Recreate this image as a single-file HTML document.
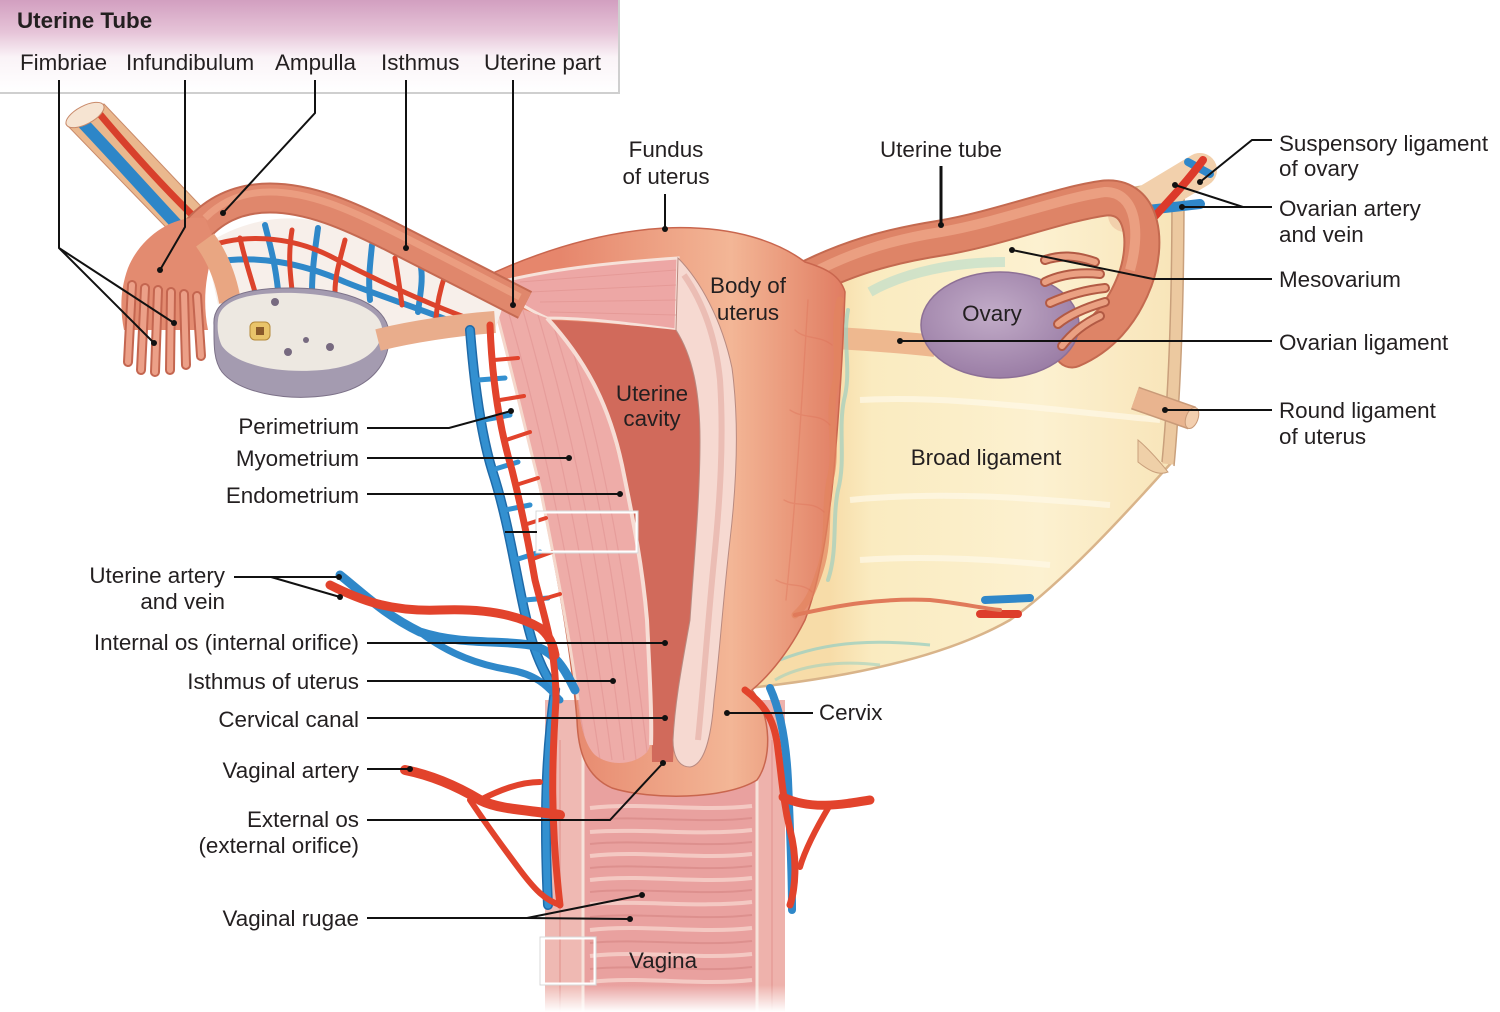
<!DOCTYPE html>
<html><head><meta charset="utf-8">
<style>
html,body{margin:0;padding:0;background:#fff;}
svg{display:block;}
text{font-family:"Liberation Sans",Arial,sans-serif;font-size:22.4px;fill:#231f20;}
</style></head><body>
<svg width="1500" height="1012" viewBox="0 0 1500 1012" xmlns="http://www.w3.org/2000/svg">
<defs>
<linearGradient id="hdr" x1="0" y1="0" x2="0" y2="1">
<stop offset="0" stop-color="#d29fc0"/><stop offset="0.35" stop-color="#e6c4d8"/><stop offset="0.62" stop-color="#faf3f7"/><stop offset="1" stop-color="#ffffff"/>
</linearGradient>
<linearGradient id="body" gradientUnits="userSpaceOnUse" x1="560" y1="0" x2="845" y2="0">
<stop offset="0" stop-color="#e6866c"/><stop offset="0.6" stop-color="#f3b696"/><stop offset="0.8" stop-color="#ea9a7c"/><stop offset="1" stop-color="#e07c62"/>
</linearGradient>
<linearGradient id="broad" gradientUnits="userSpaceOnUse" x1="830" y1="0" x2="1180" y2="0">
<stop offset="0" stop-color="#f7dca8"/><stop offset="0.12" stop-color="#faebc0"/><stop offset="0.6" stop-color="#fcf1d0"/><stop offset="1" stop-color="#f8e4b8"/>
</linearGradient>
<linearGradient id="fade" x1="0" y1="0" x2="0" y2="1">
<stop offset="0" stop-color="#fff" stop-opacity="0"/><stop offset="1" stop-color="#fff" stop-opacity="1"/>
</linearGradient>
<radialGradient id="ovR" cx="0.45" cy="0.4" r="0.6">
<stop offset="0" stop-color="#c2acc8"/><stop offset="1" stop-color="#9b7ea6"/>
</radialGradient>
<clipPath id="wallclip">
<path d="M 493 300 C 500 330 505 350 510 362 C 518 400 522 420 527 437 C 533 460 537 475 540 487 C 546 515 550 535 553 553 C 558 580 563 600 567 620 C 572 650 575 675 578 700 C 580 725 585 745 595 755 C 610 767 635 765 647 752 C 655 740 652 720 651 700 C 650 670 649 645 647 620 C 643 590 642 570 640 553 C 634 525 630 505 627 493 C 622 470 620 462 617 453 C 610 425 605 408 600 393 C 590 370 580 358 577 353 C 565 338 555 325 547 318 C 530 312 512 304 493 300 Z"/>
</clipPath>
</defs>

<!-- Broad ligament -->
<path d="M 790 278 C 850 256 920 236 980 222 C 1050 205 1120 186 1184 182 L 1182 260 C 1179 340 1176 400 1172 462 C 1120 520 1060 585 1010 620 C 940 660 830 682 705 692 L 705 420 Z" fill="url(#broad)" stroke="#d9b48a" stroke-width="2.5"/>
<g stroke="#fff9e8" stroke-width="6" opacity="0.7" fill="none">
<path d="M 860 400 C 950 395 1050 410 1160 420"/>
<path d="M 850 500 C 950 490 1050 500 1110 505"/>
<path d="M 860 560 C 930 555 1000 560 1050 565"/>
</g>
<path d="M 870 292 C 905 272 955 262 1005 262" stroke="#b5dccb" stroke-width="10" fill="none" opacity="0.6"/>
<path d="M 780 660 C 830 640 880 640 930 645" stroke="#9fd0c0" stroke-width="3" fill="none" opacity="0.8"/>
<path d="M 775 680 C 800 665 840 660 880 665" stroke="#9fd0c0" stroke-width="3" fill="none" opacity="0.6"/>
<path d="M 985 600 L 1030 598" stroke="#2f87c9" stroke-width="8" stroke-linecap="round"/>
<path d="M 980 614 L 1018 614" stroke="#dd3d2b" stroke-width="8" stroke-linecap="round"/>
<!-- right edge band -->
<path d="M 1178 190 C 1178 280 1176 380 1168 464" stroke="#ecc9a0" stroke-width="12" fill="none"/>
<path d="M 1172 190 C 1172 280 1170 380 1162 462" stroke="#c9a07c" stroke-width="1.5" fill="none"/>
<path d="M 1184 190 C 1184 280 1182 380 1174 466" stroke="#c9a07c" stroke-width="1.5" fill="none"/>
<!-- round ligament -->
<path d="M 1135 398 L 1192 418" stroke="#c99a78" stroke-width="24"/>
<path d="M 1135 398 L 1192 418" stroke="#e9b48f" stroke-width="21"/>
<ellipse cx="1192" cy="418" rx="6" ry="11" fill="#f3cfaf" stroke="#c99a78" transform="rotate(20 1192 418)"/>
<path d="M 1138 440 C 1150 450 1160 462 1168 472 C 1158 476 1148 470 1138 462 Z" fill="#efd0a8" stroke="#c9a07c"/>
<!-- right suspensory -->
<path d="M 1125 215 L 1200 170" stroke="#f2d0ac" stroke-width="34" stroke-linecap="round"/>
<path d="M 1130 212 L 1200 204" stroke="#2f87c9" stroke-width="10" stroke-linecap="round"/>
<path d="M 1188 162 L 1210 174" stroke="#2f87c9" stroke-width="8" stroke-linecap="round"/>
<path d="M 1203 160 C 1185 185 1160 210 1135 238" stroke="#dc3a2a" stroke-width="8" fill="none" stroke-linecap="round"/>
<!-- right tube -->
<path d="M 795 285 C 845 258 890 246 941 238 C 1000 228 1060 204 1105 198 C 1145 195 1148 245 1135 280 C 1122 315 1100 338 1072 350" stroke="#c46a50" stroke-width="37" fill="none" stroke-linecap="round"/>
<path d="M 795 285 C 845 258 890 246 941 238 C 1000 228 1060 204 1105 198 C 1145 195 1148 245 1135 280 C 1122 315 1100 338 1072 350" stroke="#de8467" stroke-width="33" fill="none" stroke-linecap="round"/>
<path d="M 800 280 C 845 254 890 240 941 232 C 1000 222 1060 198 1105 192 C 1138 192 1140 235 1130 270" stroke="#eda688" stroke-width="10" fill="none" opacity="0.8"/>
<!-- right ovarian ligament -->
<path d="M 835 338 C 870 340 900 342 935 346" stroke="#eeb88f" stroke-width="22" fill="none"/>
<!-- right ovary -->
<ellipse cx="1000" cy="325" rx="79" ry="53" fill="url(#ovR)" stroke="#8d7096" stroke-width="1.5"/>
<g fill="none" stroke-linecap="round">
<g stroke="#b25a44" stroke-width="10">
<path d="M 1095 262 C 1075 255 1060 255 1045 260"/>
<path d="M 1100 274 C 1080 272 1062 274 1045 282"/>
<path d="M 1105 288 C 1085 290 1068 295 1050 303"/>
<path d="M 1105 302 C 1088 307 1070 314 1058 324"/>
<path d="M 1100 316 C 1085 323 1072 333 1062 346"/>
</g>
<g stroke="#eaa082" stroke-width="6">
<path d="M 1095 262 C 1075 255 1060 255 1045 260"/>
<path d="M 1100 274 C 1080 272 1062 274 1045 282"/>
<path d="M 1105 288 C 1085 290 1068 295 1050 303"/>
<path d="M 1105 302 C 1088 307 1070 314 1058 324"/>
<path d="M 1100 316 C 1085 323 1072 333 1062 346"/>
</g>
</g>

<!-- Vagina -->
<rect x="545" y="700" width="240" height="312" fill="#e9a19f"/>
<rect x="545" y="700" width="38" height="312" fill="#efb9b3"/>
<rect x="757" y="700" width="28" height="312" fill="#eeb2ac"/>
<path d="M 583 740 L 583 1012 M 757 740 L 757 1012" stroke="#f6e2da" stroke-width="3"/>
<path d="M 560 740 L 560 1012 M 772 740 L 772 1012" stroke="#e59d98" stroke-width="1.5"/>
<g fill="none" stroke="#f6d0ca" stroke-width="4" opacity="0.85">
<path d="M 590 808 C 640 802 700 812 752 806"/>
<path d="M 590 832 C 640 828 700 836 752 830"/>
<path d="M 590 856 C 640 850 700 860 752 854"/>
<path d="M 590 880 C 640 874 700 884 752 878"/>
<path d="M 590 904 C 640 900 700 908 752 902"/>
<path d="M 590 930 C 640 924 700 934 752 928"/>
<path d="M 590 956 C 640 950 700 960 752 954"/>
<path d="M 590 982 C 640 976 700 986 752 980"/>
</g>
<g fill="none" stroke="#d98a88" stroke-width="2" opacity="0.7">
<path d="M 590 820 C 640 815 700 824 752 818"/>
<path d="M 590 844 C 640 839 700 848 752 842"/>
<path d="M 590 868 C 640 863 700 872 752 866"/>
<path d="M 590 892 C 640 887 700 896 752 890"/>
<path d="M 590 917 C 640 912 700 921 752 915"/>
<path d="M 590 943 C 640 938 700 947 752 941"/>
<path d="M 590 969 C 640 964 700 973 752 967"/>
</g>

<!-- Uterus body + cervix -->
<path d="M 478 280 C 530 255 595 232 665 228 C 735 225 780 243 805 262 C 825 268 840 275 845 292 C 843 350 840 400 834 470 C 828 530 820 580 805 620 C 790 650 770 675 752 690 C 772 715 772 760 757 780 C 725 800 650 800 612 788 C 585 776 578 750 577 720 C 572 660 560 590 548 530 C 535 460 515 380 493 300 Z" fill="url(#body)" stroke="#c9664e" stroke-width="1.5"/>
<!-- vascular edge of body -->
<g fill="none" stroke-linecap="round">
<path d="M 840 300 C 832 330 842 360 834 390 C 828 420 838 450 830 480 C 824 510 830 540 820 570 C 812 595 806 605 795 615" stroke="#e2845f" stroke-width="7" opacity="0.7"/>
<path d="M 848 310 C 842 340 852 370 844 400 C 838 430 846 460 838 490 C 832 520 838 550 828 580" stroke="#9fcfc0" stroke-width="4" opacity="0.7"/>
<g stroke="#dc6e55" stroke-width="1.4" opacity="0.35">
<path d="M 795 330 C 805 340 820 335 832 345"/><path d="M 790 410 C 805 420 818 412 830 425"/><path d="M 784 500 C 798 508 812 500 824 512"/><path d="M 776 580 C 790 588 802 582 812 592"/>
<path d="M 808 300 C 802 400 796 500 786 600"/>
</g>
<path d="M 795 615 C 840 605 880 598 930 600 C 960 603 980 608 1000 610" stroke="#e07a5a" stroke-width="4"/>
</g>

<!-- top cut band -->
<path d="M 500 282 C 555 268 620 262 678 258 L 676 330 C 640 325 590 318 547 318 C 528 310 512 298 500 290 Z" fill="#eda7a5" stroke="#f7e2da" stroke-width="3"/>
<g stroke="#e29592" stroke-width="1" opacity="0.7">
<path d="M 520 282 L 676 270 M 530 292 L 676 285 M 540 302 L 676 300 M 550 312 L 676 315"/>
</g>
<!-- left pink wall -->
<path d="M 493 300 C 500 330 505 350 510 362 C 518 400 522 420 527 437 C 533 460 537 475 540 487 C 546 515 550 535 553 553 C 558 580 563 600 567 620 C 572 650 575 675 578 700 C 580 725 585 745 595 755 C 610 767 635 765 647 752 C 655 740 652 720 651 700 C 650 670 649 645 647 620 C 643 590 642 570 640 553 C 634 525 630 505 627 493 C 622 470 620 462 617 453 C 610 425 605 408 600 393 C 590 370 580 358 577 353 C 565 338 555 325 547 318 C 530 312 512 304 493 300 Z" fill="#eeaca8"/>
<g clip-path="url(#wallclip)" stroke="#e39896" stroke-width="1.2" opacity="0.7" fill="none">
<path d="M 505 300 C 540 420 570 560 600 760"/>
<path d="M 520 300 C 555 420 585 560 612 760"/>
<path d="M 535 305 C 570 420 600 560 624 760"/>
<path d="M 550 315 C 585 420 615 560 636 760"/>
<path d="M 565 325 C 598 430 625 560 648 760"/>
<path d="M 495 320 C 525 430 555 560 588 760"/>
</g>
<path d="M 493 300 C 510 362 527 437 540 487 C 553 553 567 620 578 700" stroke="#f5d8cc" stroke-width="3" fill="none"/>
<!-- cavity -->
<path d="M 547 320 C 600 322 640 326 676 330 C 692 355 700 390 700 440 C 700 500 694 560 690 620 C 683 660 676 700 673 762 L 652 762 C 652 720 650 680 647 620 C 642 560 630 505 622 465 C 610 410 590 365 547 320 Z" fill="#d16a5b"/>
<path d="M 547 318 C 590 365 610 410 622 465 C 630 505 642 560 647 620 C 650 680 652 720 651 745" stroke="#f7ddd5" stroke-width="4" fill="none"/>
<!-- right pale strip -->
<path d="M 678 258 C 700 280 722 320 732 368 C 739 420 737 480 730 540 C 723 600 720 650 714 700 C 711 740 704 765 690 767 C 678 767 673 755 673 740 C 675 700 683 660 690 620 C 694 560 700 500 700 440 C 700 390 692 355 676 330 Z" fill="#f6d9d1" stroke="#b98a80" stroke-width="1"/>
<path d="M 684 275 C 705 305 716 340 720 380 C 724 440 720 500 714 560 C 708 620 704 680 698 740" stroke="#ebbdb4" stroke-width="6" fill="none"/>

<!-- Left suspensory -->
<path d="M 66 124 L 104 104 L 214 220 L 188 250 Z" fill="#eab88e" stroke="#c98a6a"/>
<path d="M 82 122 C 118 160 158 205 195 244" stroke="#2d86c8" stroke-width="12" fill="none"/>
<path d="M 98 112 C 130 150 170 195 208 230" stroke="#d8402c" stroke-width="7" fill="none"/>
<ellipse cx="85" cy="115" rx="21" ry="9" transform="rotate(-28 85 115)" fill="#f6e4d2" stroke="#c98a6a"/>
<!-- mesosalpinx -->
<path d="M 205 245 C 250 215 300 212 340 228 C 400 250 460 285 505 300 L 495 330 C 450 328 410 332 378 338 C 360 305 320 292 270 292 C 240 292 225 298 218 305 Z" fill="#f7efea"/>
<g fill="none" stroke-linecap="round">
<g stroke="#2f88c9" stroke-width="6">
<path d="M 215 262 C 255 255 300 262 345 282 C 390 300 440 315 470 330"/>
<path d="M 265 225 C 270 245 275 262 278 290"/>
<path d="M 318 228 C 315 250 312 270 312 292"/>
<path d="M 372 245 C 370 265 368 280 370 300"/>
<path d="M 420 262 C 424 278 420 295 418 312"/>
</g>
<g stroke="#dc432c" stroke-width="5">
<path d="M 200 250 C 240 232 290 236 330 256 C 380 282 430 305 478 322"/>
<path d="M 240 238 C 245 260 250 275 255 292"/>
<path d="M 292 230 C 288 255 290 272 292 290"/>
<path d="M 345 240 C 340 260 335 275 335 292"/>
<path d="M 395 258 C 398 275 400 290 402 305"/>
<path d="M 445 275 C 440 290 437 305 436 318"/>
</g>
</g>
<!-- left tube -->
<path d="M 525 305 C 480 282 430 256 390 236 C 350 216 310 198 270 198 C 235 198 212 212 195 232" stroke="#c56a52" stroke-width="31" fill="none"/>
<path d="M 525 305 C 480 282 430 256 390 236 C 350 216 310 198 270 198 C 235 198 212 212 195 232" stroke="#e0876c" stroke-width="27" fill="none"/>
<path d="M 520 297 C 478 275 430 250 390 230 C 350 210 310 192 270 192 C 240 192 220 203 205 218" stroke="#eda286" stroke-width="7" fill="none" opacity="0.8"/>
<!-- infundibulum -->
<path d="M 205 218 C 172 214 140 238 128 268 C 120 290 120 310 124 330 L 208 330 C 202 300 206 270 216 245 Z" fill="#e38b70"/>
<path d="M 205 240 C 218 258 226 278 230 302" stroke="#e9a682" stroke-width="22" fill="none"/>
<g fill="none" stroke-linecap="round">
<g stroke="#c46650" stroke-width="10">
<path d="M 132 285 L 128 362"/><path d="M 145 288 L 141 370"/><path d="M 158 290 L 155 372"/><path d="M 171 292 L 170 370"/><path d="M 184 294 L 186 365"/><path d="M 197 296 L 201 356"/>
</g>
<g stroke="#eca088" stroke-width="6">
<path d="M 132 285 L 128 362"/><path d="M 145 288 L 141 370"/><path d="M 158 290 L 155 372"/><path d="M 171 292 L 170 370"/><path d="M 184 294 L 186 365"/><path d="M 197 296 L 201 356"/>
</g>
</g>
<!-- left ovary -->
<path d="M 214 325 C 212 300 240 287 295 288 C 350 289 386 305 389 332 C 391 362 372 388 330 395 C 285 402 238 392 222 372 C 213 360 214 342 214 325 Z" fill="#a49bb0" stroke="#7c7188"/>
<path d="M 218 320 C 220 300 248 292 295 293 C 345 295 380 308 382 328 C 383 350 362 366 322 370 C 275 374 235 364 222 346 C 218 338 217 328 218 320 Z" fill="#ede8e1"/>
<rect x="250" y="322" width="20" height="18" rx="5" fill="#e9c46a" stroke="#b58a3a"/>
<rect x="256" y="327" width="8" height="8" fill="#8a5a2a"/>
<circle cx="275" cy="302" r="4" fill="#776a80"/><circle cx="330" cy="347" r="4" fill="#776a80"/><circle cx="288" cy="352" r="4" fill="#776a80"/><circle cx="306" cy="340" r="3" fill="#776a80"/>
<!-- left ovarian ligament -->
<path d="M 378 340 C 410 332 455 325 495 322" stroke="#e9ad8c" stroke-width="22" fill="none"/>

<!-- left uterine vessels -->
<g fill="none" stroke-linecap="round">
<path d="M 470 330 C 474 380 480 430 492 470 C 505 510 512 550 520 590 C 528 630 535 660 555 690 C 548 740 543 800 548 905" stroke="#1f6aa8" stroke-width="10"/>
<path d="M 470 330 C 474 380 480 430 492 470 C 505 510 512 550 520 590 C 528 630 535 660 555 690 C 548 740 543 800 548 905" stroke="#3390d0" stroke-width="7"/>
<path d="M 340 575 C 365 595 385 615 420 632 C 460 645 500 640 530 645 C 555 650 565 670 575 690" stroke="#2f88c9" stroke-width="9"/>
<path d="M 420 632 C 450 655 480 665 510 670 C 540 675 550 690 560 700" stroke="#2f88c9" stroke-width="7"/>
<g stroke="#3390d0" stroke-width="5">
<path d="M 478 380 L 505 378"/><path d="M 484 420 L 510 415"/><path d="M 492 470 L 518 462"/><path d="M 505 510 L 530 505"/><path d="M 515 560 L 540 552"/><path d="M 525 600 L 548 598"/>
</g>
<path d="M 490 325 C 492 380 500 430 512 470 C 522 510 528 540 535 580 C 545 620 556 650 556 700 C 552 760 550 820 560 905" stroke="#e2432c" stroke-width="7"/>
<g stroke="#e2432c" stroke-width="4">
<path d="M 494 360 L 518 358"/><path d="M 500 400 L 524 396"/><path d="M 506 440 L 530 432"/><path d="M 516 485 L 538 478"/><path d="M 524 525 L 546 518"/><path d="M 530 560 L 552 552"/><path d="M 540 600 L 560 594"/>
</g>
<path d="M 330 585 C 360 600 390 612 440 610 C 490 608 520 616 540 628 C 550 636 553 645 555 655" stroke="#e2432c" stroke-width="9"/>
<path d="M 405 770 C 430 775 455 785 480 800 C 500 810 530 810 560 815" stroke="#e2432c" stroke-width="10"/>
<path d="M 480 800 C 500 790 520 782 540 782" stroke="#e2432c" stroke-width="6"/>
<path d="M 470 800 C 490 830 505 850 520 870 C 535 890 545 900 560 905" stroke="#e2432c" stroke-width="6"/>
<!-- right vessels -->
<path d="M 770 688 C 780 710 786 740 788 780 C 790 830 792 870 792 910" stroke="#2f88c9" stroke-width="8"/>
<path d="M 745 690 C 765 705 775 720 778 750 C 782 780 783 800 790 830 C 798 860 795 890 790 905" stroke="#e2432c" stroke-width="7"/>
<path d="M 783 797 C 810 810 840 805 870 800" stroke="#e2432c" stroke-width="9"/>
<path d="M 830 805 C 815 830 805 850 800 867" stroke="#e2432c" stroke-width="6"/>
</g>

<rect x="540" y="985" width="250" height="27" fill="url(#fade)"/>

<!-- boxes -->
<rect x="537" y="512" width="100" height="40" fill="none" stroke="#ffffff" stroke-width="3"/>
<rect x="541" y="938" width="54" height="46" fill="none" stroke="#ffffff" stroke-width="3"/>
<rect x="536" y="511" width="102" height="42" fill="none" stroke="#cfcfcf" stroke-width="0.8"/>
<rect x="540" y="937" width="56" height="48" fill="none" stroke="#cfcfcf" stroke-width="0.8"/>

<!-- Header -->
<rect x="0" y="0" width="618" height="92" fill="url(#hdr)"/>
<line x1="619" y1="0" x2="619" y2="94" stroke="#cfcfcf" stroke-width="2"/>
<line x1="0" y1="93" x2="620" y2="93" stroke="#cfcfcf" stroke-width="2"/>
<text x="17" y="28" style="font-weight:bold">Uterine Tube</text>
<text x="20" y="70">Fimbriae</text>
<text x="126" y="70">Infundibulum</text>
<text x="275" y="70">Ampulla</text>
<text x="381" y="70">Isthmus</text>
<text x="484" y="70">Uterine part</text>

<!-- Leader lines -->
<g stroke="#111" stroke-width="2" fill="none">
<path d="M 59 80 L 59 248 L 174 323 M 59 248 L 154 343"/>
<path d="M 185 80 L 185 227 L 160 270"/>
<path d="M 315 80 L 315 113 L 223 213"/>
<path d="M 406 80 L 406 248"/>
<path d="M 513 80 L 513 305"/>
<path d="M 665 194 L 665 229"/>
<path d="M 941 166 L 941 225" stroke-width="3"/>
<path d="M 1272 140 L 1252 140 L 1200 182"/>
<path d="M 1272 207 L 1243 207 L 1175 185 M 1243 207 L 1182 207"/>
<path d="M 1272 279 L 1153 279 L 1012 250"/>
<path d="M 1272 341 L 900 341"/>
<path d="M 1272 410 L 1165 410"/>
<path d="M 367 428 L 449 428 L 511 411"/>
<path d="M 367 458 L 569 458"/>
<path d="M 367 494 L 620 494"/>
<path d="M 505 532 L 537 532"/>
<path d="M 234 577 L 339 577 M 271 577 L 340 597"/>
<path d="M 367 643 L 665 643"/>
<path d="M 367 681 L 613 681"/>
<path d="M 367 718 L 665 718"/>
<path d="M 367 769 L 410 769"/>
<path d="M 367 820 L 610 820 L 663 763"/>
<path d="M 367 918 L 527 918 L 642 895 M 527 918 L 630 919"/>
<path d="M 727 713 L 813 713"/>
</g>
<g fill="#111">
<circle cx="174" cy="323" r="3"/><circle cx="154" cy="343" r="3"/><circle cx="160" cy="270" r="3"/><circle cx="223" cy="213" r="3"/><circle cx="406" cy="248" r="3"/><circle cx="513" cy="305" r="3"/>
<circle cx="665" cy="229" r="3"/><circle cx="941" cy="225" r="3"/>
<circle cx="1200" cy="182" r="3"/><circle cx="1175" cy="185" r="3"/><circle cx="1182" cy="207" r="3"/><circle cx="1012" cy="250" r="3"/><circle cx="900" cy="341" r="3"/><circle cx="1165" cy="410" r="3"/>
<circle cx="511" cy="411" r="3"/><circle cx="569" cy="458" r="3"/><circle cx="620" cy="494" r="3"/>
<circle cx="339" cy="577" r="3"/><circle cx="340" cy="597" r="3"/>
<circle cx="665" cy="643" r="3"/><circle cx="613" cy="681" r="3"/><circle cx="665" cy="718" r="3"/><circle cx="410" cy="769" r="3"/><circle cx="663" cy="763" r="3"/>
<circle cx="642" cy="895" r="3"/><circle cx="630" cy="919" r="3"/><circle cx="727" cy="713" r="3"/>
</g>

<!-- Labels -->
<text x="666" y="157" text-anchor="middle">Fundus</text>
<text x="666" y="184" text-anchor="middle">of uterus</text>
<text x="941" y="157" text-anchor="middle">Uterine tube</text>
<text x="748" y="293" text-anchor="middle">Body of</text>
<text x="748" y="320" text-anchor="middle">uterus</text>
<text x="652" y="401" text-anchor="middle">Uterine</text>
<text x="652" y="426" text-anchor="middle">cavity</text>
<text x="992" y="321" text-anchor="middle">Ovary</text>
<text x="986" y="465" text-anchor="middle">Broad ligament</text>
<text x="629" y="968">Vagina</text>
<text x="819" y="720">Cervix</text>

<text x="1279" y="151">Suspensory ligament</text>
<text x="1279" y="176">of ovary</text>
<text x="1279" y="216">Ovarian artery</text>
<text x="1279" y="242">and vein</text>
<text x="1279" y="287">Mesovarium</text>
<text x="1279" y="350">Ovarian ligament</text>
<text x="1279" y="418">Round ligament</text>
<text x="1279" y="444">of uterus</text>

<g text-anchor="end">
<text x="359" y="434">Perimetrium</text>
<text x="359" y="466">Myometrium</text>
<text x="359" y="503">Endometrium</text>
<text x="225" y="583">Uterine artery</text>
<text x="225" y="609">and vein</text>
<text x="359" y="650">Internal os (internal orifice)</text>
<text x="359" y="689">Isthmus of uterus</text>
<text x="359" y="727">Cervical canal</text>
<text x="359" y="778">Vaginal artery</text>
<text x="359" y="827">External os</text>
<text x="359" y="853">(external orifice)</text>
<text x="359" y="926">Vaginal rugae</text>
</g>
</svg>
</body></html>
